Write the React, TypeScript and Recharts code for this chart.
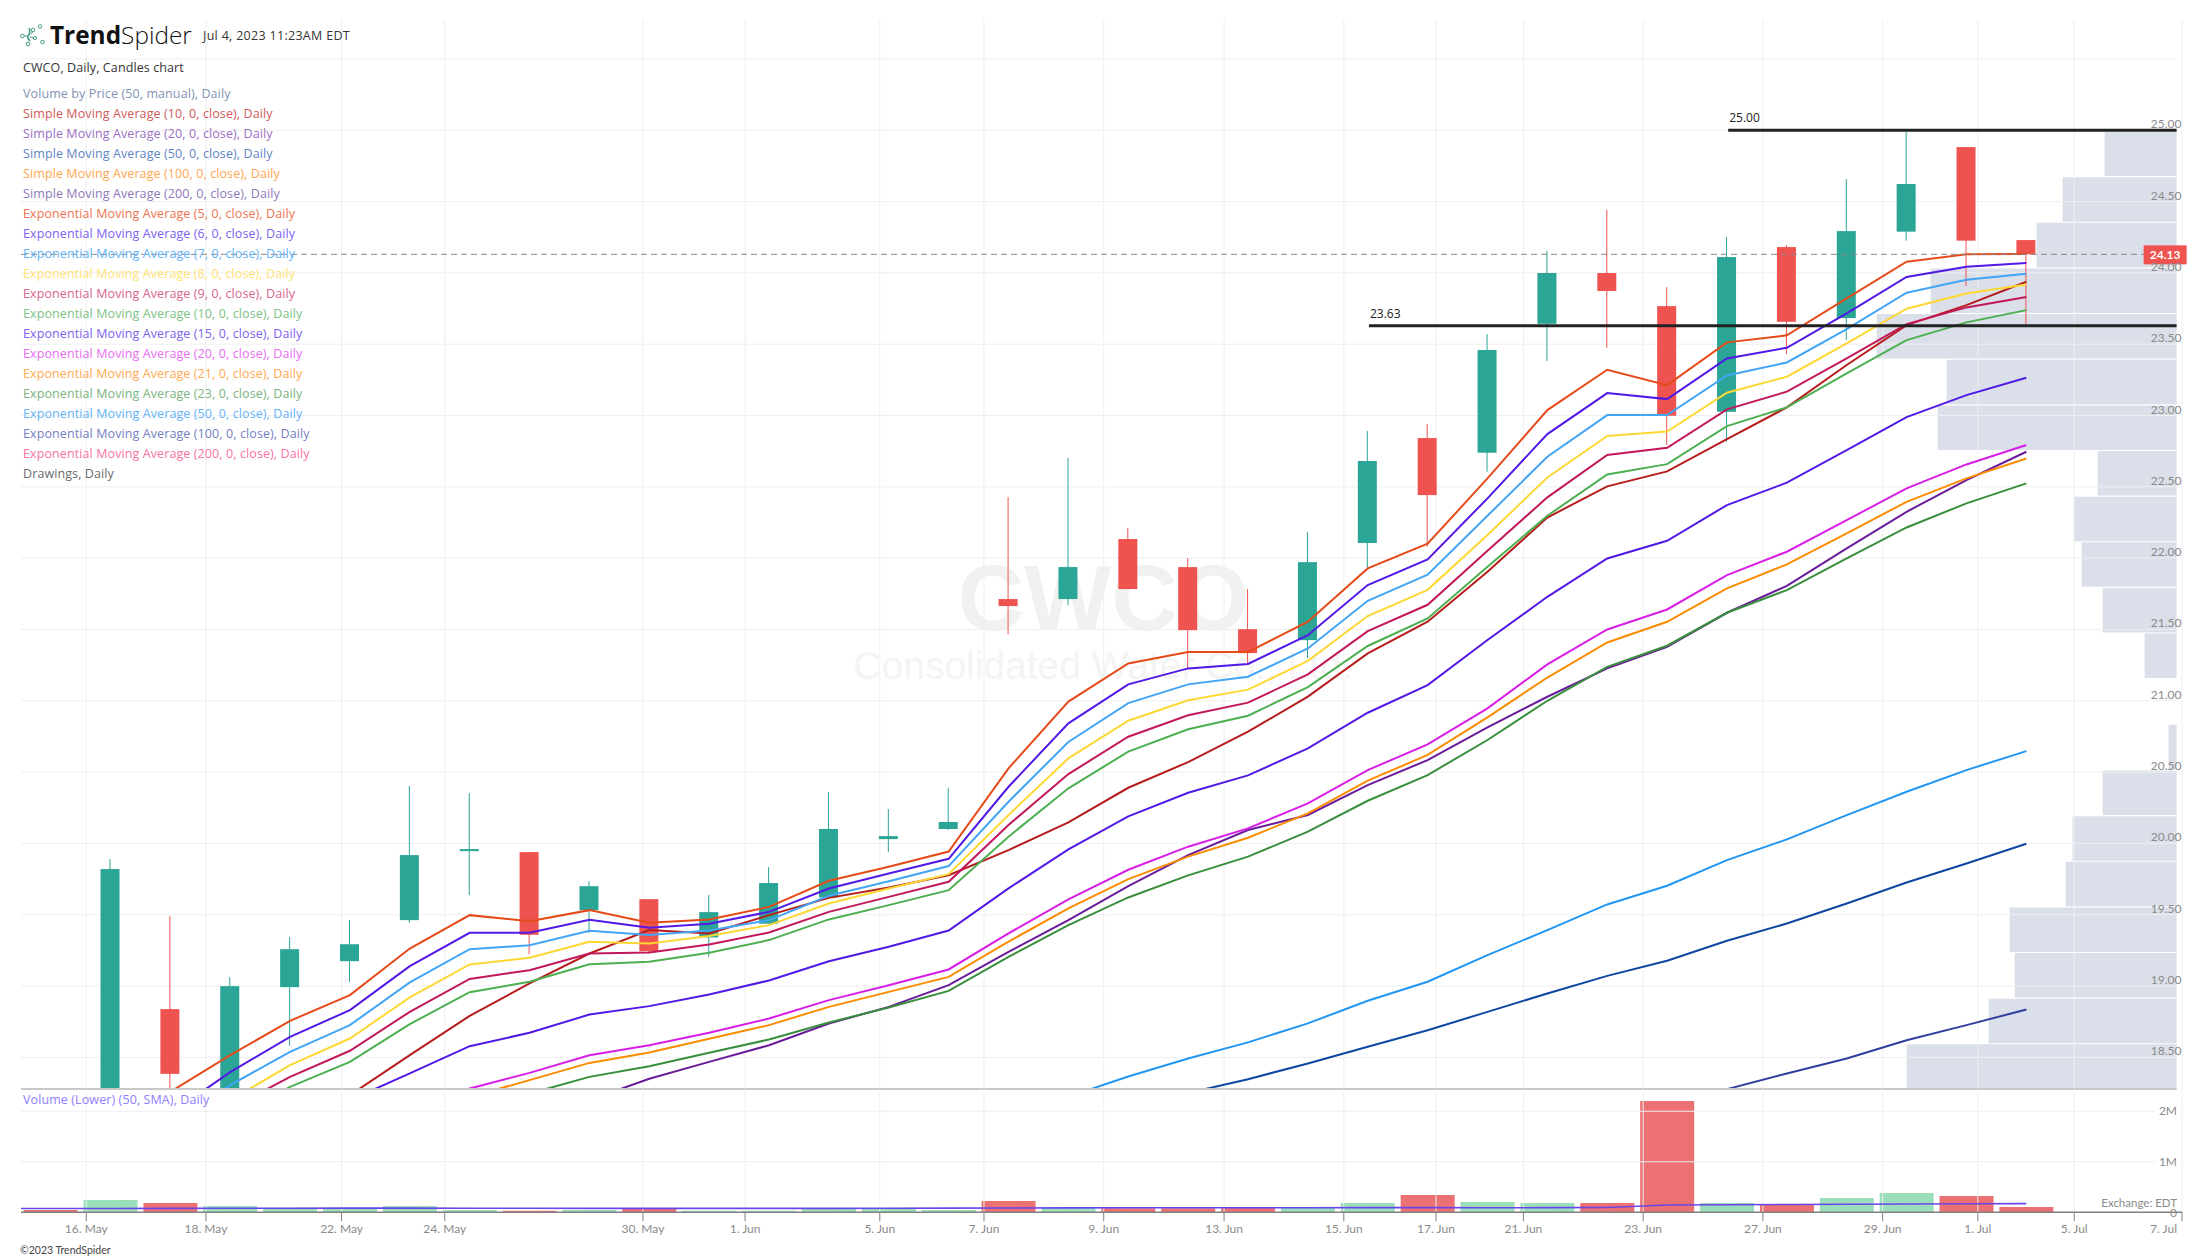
import React from 'react';
import { ComposedChart, Bar, Line, XAxis, YAxis, ReferenceLine, ReferenceArea, Rectangle } from 'recharts';

const pad = (start: number, values: number[]) => [...Array(start).fill(null), ...values];

// --- candles, index 1..33 (index 0 lies below the visible range)
const openPrices = [18.1,18.838,18.1,18.992,19.174,19.462,19.946,19.939,19.532,19.609,19.341,19.437,19.621,20.03,20.101,21.713,21.713,22.134,21.937,21.502,21.425,22.106,22.842,22.739,23.643,23.999,23.767,23.026,24.181,23.683,24.289,24.882,24.23];
const highPrices = [19.89,19.49,19.062,19.343,19.462,20.402,20.352,19.939,19.735,19.609,19.638,19.834,20.36,20.241,20.388,22.428,22.702,22.211,22.0,21.783,22.183,22.891,22.94,23.571,24.153,24.44,23.9,24.251,24.195,24.658,24.99,24.882,24.23];
const lowPrices = [18.0,18.1,18.0,18.581,19.029,19.443,19.637,19.223,19.373,19.228,19.205,19.437,19.621,19.939,20.094,21.467,21.671,21.783,21.227,21.262,21.299,21.928,22.08,22.606,23.382,23.475,22.793,22.816,23.431,23.529,24.226,23.908,23.627];
const closePrices = [19.82,18.384,18.999,19.258,19.293,19.918,19.96,19.359,19.7,19.244,19.518,19.722,20.101,20.051,20.15,21.664,21.937,21.783,21.495,21.334,21.972,22.681,22.442,23.459,23.999,23.873,22.998,24.111,23.657,24.293,24.623,24.226,24.13];

// --- moving averages
const ema5 = pad(2,[18.258,18.515,18.756,18.936,19.263,19.497,19.455,19.532,19.443,19.467,19.555,19.738,19.836,19.943,20.526,20.994,21.262,21.342,21.342,21.554,21.928,22.101,22.559,23.038,23.321,23.213,23.513,23.562,23.821,24.078,24.13,24.132]);
const ema6 = pad(2,[18.106,18.396,18.644,18.831,19.139,19.373,19.373,19.464,19.408,19.436,19.52,19.684,19.789,19.892,20.397,20.842,21.115,21.227,21.258,21.46,21.811,21.991,22.419,22.87,23.157,23.115,23.4,23.475,23.716,23.971,24.043,24.069]);
const ema7 = pad(2,[18.05,18.305,18.539,18.726,19.025,19.258,19.286,19.387,19.357,19.389,19.462,19.633,19.735,19.841,20.292,20.711,20.984,21.115,21.169,21.367,21.701,21.884,22.297,22.711,23.003,23.003,23.281,23.372,23.606,23.861,23.952,23.994]);
const ema8 = pad(2,[17.95,18.2,18.445,18.632,18.92,19.151,19.198,19.31,19.298,19.35,19.427,19.579,19.684,19.784,20.199,20.596,20.86,21.003,21.078,21.28,21.594,21.778,22.162,22.566,22.856,22.888,23.16,23.272,23.506,23.749,23.856,23.919]);
const ema9 = pad(3,[18.141,18.363,18.546,18.819,19.05,19.111,19.228,19.235,19.291,19.375,19.52,19.625,19.731,20.129,20.486,20.748,20.898,20.987,21.185,21.488,21.673,22.052,22.426,22.723,22.774,23.043,23.167,23.4,23.641,23.758,23.831]);
const ema10 = pad(3,[18.06,18.293,18.468,18.733,18.957,19.03,19.153,19.17,19.233,19.322,19.467,19.567,19.672,20.047,20.386,20.643,20.8,20.895,21.096,21.384,21.577,21.94,22.297,22.587,22.659,22.926,23.057,23.295,23.529,23.653,23.739]);
const sma10 = pad(4,[18.0,18.235,18.515,18.791,19.018,19.228,19.392,19.368,19.497,19.618,19.691,19.777,19.953,20.147,20.39,20.57,20.783,21.029,21.332,21.554,21.905,22.285,22.503,22.608,22.835,23.057,23.354,23.634,23.774,23.938]);
const ema15 = pad(5,[18.2,18.387,18.578,18.672,18.8,18.859,18.941,19.039,19.174,19.275,19.389,19.685,19.958,20.189,20.355,20.477,20.666,20.916,21.11,21.426,21.729,21.998,22.122,22.372,22.529,22.758,22.989,23.143,23.265]);
const ema20 = pad(6,[18.153,18.281,18.391,18.515,18.585,18.672,18.772,18.901,19.006,19.116,19.369,19.607,19.815,19.977,20.105,20.281,20.514,20.694,20.947,21.255,21.5,21.64,21.881,22.045,22.267,22.489,22.657,22.793]);
const ema21 = pad(7,[18.223,18.34,18.461,18.534,18.63,18.726,18.854,18.959,19.064,19.311,19.544,19.75,19.907,20.04,20.21,20.44,20.62,20.884,21.163,21.409,21.554,21.788,21.956,22.173,22.395,22.559,22.699]);
const ema23 = pad(8,[18.246,18.363,18.438,18.532,18.625,18.744,18.849,18.966,19.205,19.427,19.621,19.776,19.907,20.082,20.299,20.479,20.725,21.0,21.238,21.386,21.617,21.776,21.998,22.215,22.384,22.524]);
const sma20 = pad(9,[18.2,18.35,18.468,18.585,18.737,18.854,19.006,19.24,19.462,19.701,19.918,20.094,20.199,20.409,20.584,20.814,21.028,21.227,21.378,21.617,21.806,22.068,22.325,22.547,22.746]);
const ema50 = pad(17,[18.224,18.366,18.492,18.605,18.738,18.897,19.03,19.217,19.392,19.572,19.703,19.883,20.028,20.198,20.362,20.514,20.647]);
const sma50 = pad(19,[18.25,18.347,18.457,18.574,18.69,18.819,18.948,19.071,19.177,19.317,19.438,19.579,19.726,19.859,19.997]);
const ema100 = pad(27,[18.164,18.277,18.387,18.492,18.62,18.726,18.835]);

// --- volume in millions, index 0..33
const volumes = [0.046,0.244,0.185,0.125,0.09,0.09,0.125,0.046,0.03,0.046,0.07,0.03,0.03,0.08,0.07,0.046,0.224,0.1,0.08,0.08,0.1,0.1,0.185,0.343,0.205,0.185,0.185,2.205,0.185,0.165,0.284,0.383,0.323,0.105];
const volumeUp = [0,1,0,1,1,1,1,1,0,1,0,1,1,1,1,1,0,1,0,0,0,1,1,0,1,1,0,0,1,0,1,1,0,0];
const volumeSma = [0.075,0.075,0.075,0.078,0.08,0.08,0.082,0.082,0.08,0.08,0.078,0.078,0.078,0.078,0.078,0.08,0.082,0.085,0.088,0.09,0.09,0.09,0.09,0.092,0.092,0.09,0.092,0.095,0.145,0.15,0.155,0.16,0.165,0.17,0.172];

// --- volume by price, top row first, rows start at vpTop and step by vpStep
const vpTop = 24.995;
const vpStep = 0.32;
const vpVolume = [72,114,140,246,300,230,239,79,103,95,74,32,0,8,74,104,111,167,162,188,270];

// --- axes
const xTickIndex = [0.596,2.595,4.86,6.584,9.894,11.6,13.85,15.59,17.59,19.6,21.6,23.14,24.6,26.6,28.6,30.6,32.19,33.8,35.6];
const xTickLabels = ['16. May','18. May','22. May','24. May','30. May','1. Jun','5. Jun','7. Jun','9. Jun','13. Jun','15. Jun','17. Jun','21. Jun','23. Jun','27. Jun','29. Jun','1. Jul','5. Jul','7. Jul'];
const priceTicks = [18.5,19,19.5,20,20.5,21,21.5,22,22.5,23,23.5,24,24.5,25];
const priceGrid = [...priceTicks, 25.5];
const volumeTicks = [0,1,2];
const lastPrice = 24.13;
const levelLines = [{ value: 23.63, from: 22.02, text: '23.63' }, { value: 25, from: 28.02, text: '25.00' }];

const seriesStyle = [
  { key: 'sma10', color: '#b71c1c', values: sma10 },
  { key: 'ema100', color: '#303f9f', values: ema100 },
  { key: 'sma50', color: '#0d47a1', values: sma50 },
  { key: 'ema50', color: '#2196f3', values: ema50 },
  { key: 'sma20', color: '#6a1b9a', values: sma20 },
  { key: 'ema23', color: '#388e3c', values: ema23 },
  { key: 'ema21', color: '#fb8c00', values: ema21 },
  { key: 'ema20', color: '#d81ee6', values: ema20 },
  { key: 'ema15', color: '#5218e6', values: ema15 },
  { key: 'ema10', color: '#4caf50', values: ema10 },
  { key: 'ema9', color: '#c2185b', values: ema9 },
  { key: 'ema8', color: '#fdd835', values: ema8 },
  { key: 'ema7', color: '#42a5f5', values: ema7 },
  { key: 'ema6', color: '#5218e6', values: ema6 },
  { key: 'ema5', color: '#e64a19', values: ema5 },
];

const legendRows = [
  ['Volume by Price (50, manual), Daily', '#7f93b2'],
  ['Simple Moving Average (10, 0, close), Daily', '#cf5a5a'],
  ['Simple Moving Average (20, 0, close), Daily', '#9b6fc4'],
  ['Simple Moving Average (50, 0, close), Daily', '#5f84c4'],
  ['Simple Moving Average (100, 0, close), Daily', '#ffa64d'],
  ['Simple Moving Average (200, 0, close), Daily', '#9077bb'],
  ['Exponential Moving Average (5, 0, close), Daily', '#f0734f'],
  ['Exponential Moving Average (6, 0, close), Daily', '#7d62f0'],
  ['Exponential Moving Average (7, 0, close), Daily', '#62b3f8'],
  ['Exponential Moving Average (8, 0, close), Daily', '#ffe272'],
  ['Exponential Moving Average (9, 0, close), Daily', '#d9648f'],
  ['Exponential Moving Average (10, 0, close), Daily', '#7cc284'],
  ['Exponential Moving Average (15, 0, close), Daily', '#7d62f0'],
  ['Exponential Moving Average (20, 0, close), Daily', '#e86cf2'],
  ['Exponential Moving Average (21, 0, close), Daily', '#ffa84f'],
  ['Exponential Moving Average (23, 0, close), Daily', '#7ab37e'],
  ['Exponential Moving Average (50, 0, close), Daily', '#62b3f8'],
  ['Exponential Moving Average (100, 0, close), Daily', '#737fc2'],
  ['Exponential Moving Average (200, 0, close), Daily', '#f873a3'],
  ['Drawings, Daily', '#6a6a6a'],
];

// --- tables
const priceRows = Array.from({ length: 34 }, (_, i) => {
  const row: any = { idx: i };
  if (i > 0) {
    row.open = openPrices[i - 1];
    row.high = highPrices[i - 1];
    row.low = lowPrices[i - 1];
    row.close = closePrices[i - 1];
  }
  seriesStyle.forEach((s) => { row[s.key] = s.values[i] ?? null; });
  return row;
});
const volumeRows = volumeSma.map((sma, i) => ({
  idx: i - 1,
  sma,
  volume: i > 0 ? volumes[i - 1] : null,
  up: i > 0 ? volumeUp[i - 1] : 0,
}));
const vpRows = vpVolume.map((v, i) => ({ v, y1: vpTop - vpStep * i - 0.004, y2: vpTop - vpStep * (i + 1) + 0.004 }));

// --- layout and style
const W = 2207;
const H = 1259;
const FONT = 'Lato, sans-serif';
const LABEL_FONT = "'Open Sans', sans-serif";
const GRID = '#efefef';
const X_DOMAIN: [number, number] = [-0.494, 35.6];
const X_EDGE = 35.51; // where the price pane's horizontal rules stop
const X_VOL_RULE = 35.15;
const PRICE_DOMAIN: [number, number] = [18.278, 25.773];
const VOLUME_DOMAIN: [number, number] = [0, 2.44];
const PX_PER_VP_UNIT = 1 / 59.875;
const priceMargin = { top: 20, left: 21, right: 25, bottom: 170 };
const labelText: React.CSSProperties = { position: 'absolute', fontFamily: LABEL_FONT, fontSize: 12.5, letterSpacing: 0.1, lineHeight: '16px', whiteSpace: 'nowrap' };

const Candle = (p: any) => {
  const { x, y, width, height, payload } = p;
  if (payload == null || payload.high == null || !height) return null;
  const k = height / (payload.high - payload.low);
  const top = Math.max(payload.open, payload.close);
  const bot = Math.min(payload.open, payload.close);
  const color = payload.close >= payload.open ? '#2ba596' : '#ef5350';
  const cx = x + width / 2;
  return (
    <g>
      <line x1={cx} x2={cx} y1={y} y2={y + height} stroke={color} strokeWidth={1} />
      <rect x={x} y={y + (payload.high - top) * k} width={width} height={Math.max(1, (top - bot) * k)} fill={color} />
    </g>
  );
};

const VolumeBar = (p: any) => (
  <Rectangle x={p.x} y={p.y} width={p.width} height={p.height} fill={p.payload.up ? '#9adfba' : '#ec7172'} />
);

const PriceTick = (p: any) => (
  <text x={2181.5} y={p.y - 2} textAnchor="end" fontFamily={FONT} fontSize={12} fill="#8a8a8a">{Number(p.payload.value).toFixed(2)}</text>
);
const VolumeTick = (p: any) => (
  <text x={2177} y={p.y + (p.payload.value === 0 ? 5 : 4)} textAnchor="end" fontFamily={FONT} fontSize={12} fill="#8a8a8a">{p.payload.value === 0 ? '0' : p.payload.value + 'M'}</text>
);
const TimeTick = (p: any) => {
  const i = xTickIndex.indexOf(p.payload.value);
  const last = i === xTickIndex.length - 1;
  return (
    <text x={last ? p.x - 5 : p.x} y={p.y + 10} textAnchor={last ? 'end' : 'middle'} fontFamily={FONT} fontSize={12} fill="#8a8a8a">{xTickLabels[i]}</text>
  );
};

const PriceTag = (p: any) => {
  const v = p.viewBox;
  const right = v.x + v.width;
  return (
    <g>
      <rect x={right - 33} y={v.y - 9} width={43} height={19} fill="#ef5350" />
      <text x={right - 11.5} y={v.y + 4.5} textAnchor="middle" fontFamily={FONT} fontSize={12} fontWeight={700} fill="#fff">{lastPrice.toFixed(2)}</text>
    </g>
  );
};

const Logo = () => (
  <svg width={26} height={26} style={{ position: 'absolute', left: 19, top: 23 }} viewBox="0 0 26 26" fill="none" stroke="#3f9a88" strokeWidth={1}>
    <circle cx={3.5} cy={13} r={1.8} /><circle cx={21} cy={3.5} r={1.8} /><circle cx={23.5} cy={19} r={1.8} />
    <circle cx={9} cy={21} r={1.8} /><circle cx={14} cy={7} r={1.8} /><circle cx={16} cy={15} r={1.6} />
    <path d="M10 5 Q12 10 9 13 Q8 15 11 18" strokeWidth={1.6} />
    <path d="M5.5 13 H9 M12 11 L14 8.5 M11 14 L14.5 15" />
  </svg>
);

const absolute: React.CSSProperties = { position: 'absolute', left: 0, top: 0 };

export default function App() {
  return (
    <div style={{ position: 'absolute', left: 0, top: 0, width: W, height: H, background: '#fff', overflow: 'hidden' }}>
      {/* watermark */}
      <svg width={W} height={H} style={absolute}>
        <text x={1103.5} y={630} textAnchor="middle" fontFamily="'Liberation Sans', Arial" fontWeight={700} fontSize={92} fill="#f1f1f1">CWCO</text>
        <text x={1103} y={679} textAnchor="middle" fontFamily="'Liberation Sans', Arial" fontSize={39} fill="#f4f4f4">Consolidated Water Co., Ltd.</text>
      </svg>

      {/* grid and volume-by-price, below the candles */}
      <div style={absolute}>
        <ComposedChart width={W} height={H} data={priceRows} margin={priceMargin}>
          <XAxis hide type="number" dataKey="idx" domain={X_DOMAIN} allowDataOverflow />
          <YAxis hide type="number" domain={PRICE_DOMAIN} allowDataOverflow />
          {xTickIndex.map((x) => <ReferenceLine key={x} x={x} stroke={GRID} strokeWidth={1} />)}
          {priceGrid.map((y) => (
            <ReferenceLine key={y} stroke={GRID} strokeWidth={1} segment={[{ x: X_DOMAIN[0], y }, { x: X_EDGE, y }]} />
          ))}
          {vpRows.filter((r) => r.v > 0).map((r) => (
            <ReferenceArea key={r.y1} x1={X_EDGE - r.v * PX_PER_VP_UNIT} x2={X_EDGE} y1={r.y2} y2={r.y1} fill="#c3ccdc" fillOpacity={0.62} stroke="none" />
          ))}
        </ComposedChart>
      </div>

      {/* candles, averages, drawings */}
      <div style={absolute}>
        <ComposedChart width={W} height={H} data={priceRows} margin={priceMargin}>
          <XAxis hide type="number" dataKey="idx" domain={X_DOMAIN} allowDataOverflow />
          <YAxis orientation="right" mirror type="number" domain={PRICE_DOMAIN} allowDataOverflow ticks={priceTicks} interval={0} axisLine={false} tickLine={false} tick={<PriceTick />} />
          <Bar dataKey={(d: any) => (d.high == null ? null : [d.low, d.high])} barSize={19} shape={<Candle />} isAnimationActive={false} />
          {seriesStyle.map((s) => (
            <Line key={s.key} dataKey={s.key} stroke={s.color} strokeWidth={2} dot={false} activeDot={false} type="linear" isAnimationActive={false} />
          ))}
          <ReferenceLine stroke="#c8c8c8" strokeWidth={2} segment={[{ x: X_DOMAIN[0], y: PRICE_DOMAIN[0] }, { x: X_EDGE, y: PRICE_DOMAIN[0] }]} ifOverflow="visible" />
          <ReferenceLine stroke="#8a8a8a" strokeWidth={1} strokeDasharray="6 4" segment={[{ x: X_DOMAIN[0], y: lastPrice }, { x: X_EDGE, y: lastPrice }]} label={<PriceTag />} />
          {levelLines.map((l) => (
            <ReferenceLine
              key={l.text}
              stroke="#222"
              strokeWidth={3}
              segment={[{ x: l.from, y: l.value }, { x: X_EDGE, y: l.value }]}
              label={(p: any) => (
                <text x={p.viewBox.x + 1} y={p.viewBox.y - 8} fontFamily={LABEL_FONT} fontSize={12} fill="#222">{l.text}</text>
              )}
            />
          ))}
        </ComposedChart>
      </div>

      {/* volume pane */}
      <div style={{ ...absolute, top: 1089 }}>
        <ComposedChart width={W} height={170} data={volumeRows} margin={{ top: 0, left: 21, right: 25, bottom: 0 }}>
          <XAxis type="number" dataKey="idx" domain={X_DOMAIN} allowDataOverflow ticks={xTickIndex} interval={0} height={46.7} tickSize={9} stroke="#808080" axisLine={{ stroke: '#808080', strokeWidth: 1.5 }} tickLine={{ stroke: '#808080' }} tick={<TimeTick />} />
          <YAxis orientation="right" mirror type="number" domain={VOLUME_DOMAIN} allowDataOverflow ticks={volumeTicks} interval={0} axisLine={false} tickLine={false} tick={<VolumeTick />} />
          {xTickIndex.map((x) => <ReferenceLine key={x} x={x} stroke={GRID} strokeWidth={1} />)}
          {volumeTicks.filter((t) => t > 0).map((y) => (
            <ReferenceLine key={y} stroke={GRID} strokeWidth={1} segment={[{ x: X_DOMAIN[0], y }, { x: X_VOL_RULE, y }]} />
          ))}
          <Bar dataKey="volume" barSize={54} shape={<VolumeBar />} isAnimationActive={false} />
          <Line dataKey="sma" stroke="#6a45ec" strokeWidth={1.6} dot={false} activeDot={false} type="linear" isAnimationActive={false} />
        </ComposedChart>
      </div>

      {/* header and legend text */}
      <Logo />
      <div style={{ position: 'absolute', left: 50, top: 19, fontFamily: LABEL_FONT, fontSize: 24.4, lineHeight: '32px', color: '#111', whiteSpace: 'nowrap' }}>
        <span style={{ fontWeight: 700 }}>Trend</span><span style={{ fontWeight: 300 }}>Spider</span>
      </div>
      <div style={{ ...labelText, left: 203, top: 28, letterSpacing: 0.3, color: '#333' }}>Jul 4, 2023 11:23AM EDT</div>
      <div style={{ ...labelText, left: 23, top: 60, color: '#333' }}>CWCO, Daily, Candles chart</div>
      {legendRows.map(([text, color], i) => (
        <div key={text} style={{ ...labelText, left: 23, top: 86 + i * 20, color }}>{text}</div>
      ))}
      <div style={{ ...labelText, left: 23, top: 1092, color: '#8f7dff' }}>Volume (Lower) (50, SMA), Daily</div>
      <div style={{ position: 'absolute', right: 30, top: 1196, fontFamily: FONT, fontSize: 11.5, lineHeight: '14px', color: '#8a8a8a', whiteSpace: 'nowrap' }}>Exchange: EDT</div>
      <div style={{ position: 'absolute', left: 20, top: 1243, fontFamily: FONT, fontSize: 10.5, lineHeight: '14px', color: '#444', whiteSpace: 'nowrap' }}>©2023 TrendSpider</div>
    </div>
  );
}
